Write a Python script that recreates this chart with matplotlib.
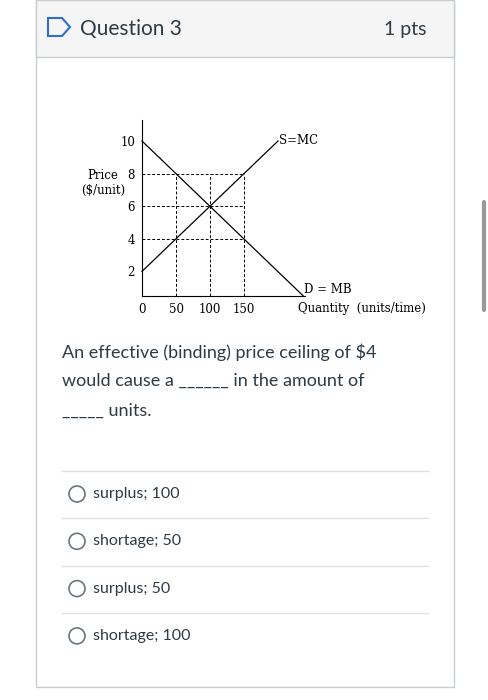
import matplotlib
matplotlib.use('Agg')
import matplotlib.pyplot as plt
from matplotlib.patches import Rectangle, Circle, Polygon

# chart data
qty_ticks = [0, 50, 100, 150]
price_ticks = [2, 4, 6, 8, 10]
supply_q = [0, 200]
supply_p = [2, 10]
demand_q = [0, 237]
demand_p = [10, 0.5]
guide_q = [50, 100, 150]
guide_p = [8, 6, 4]

options = ["surplus; 100", "shortage; 50", "surplus; 50", "shortage; 100"]

fig = plt.figure(figsize=(4.89, 7), dpi=100)
bg = fig.add_axes([0, 0, 1, 1])
bg.set_xlim(0, 489)
bg.set_ylim(700, 0)
bg.axis('off')

# card
bg.add_patch(Rectangle((36, 0), 418, 687, fill=False, ec='#c7cdd1', lw=1))
bg.add_patch(Rectangle((36, 0), 418, 57, fc='#f5f5f5', ec='#c7cdd1', lw=1))
bg.add_patch(Polygon([(48, 18), (62, 18), (70, 27), (62, 36), (48, 36)], closed=True,
                     fill=False, ec='#2d6fcf', lw=1.5))
bg.text(80, 29, "Question 3", fontsize=15, family='Lato', color='#2d3b45', va='center')
bg.text(426, 29, "1 pts", fontsize=14, family='Lato', color='#2d3b45', va='center', ha='right')

# question text
txt = dict(fontsize=13, family='Lato', color='#2d3b45', va='center')
bg.text(62, 352, "An effective (binding) price ceiling of $4", **txt)
bg.text(62, 381, "would cause a ______ in the amount of", **txt)
bg.text(62, 411, "_____ units.", **txt)

# answers
for i, opt in enumerate(options):
    y = 494 + i * 47.3
    bg.plot([62, 428], [y - 23, y - 23], color='#dde1e4', lw=1)
    bg.add_patch(Circle((77, y), 8, fill=False, ec='#6b7780', lw=1.2))
    bg.text(93, y, opt, fontsize=11.5, family='Lato', color='#2d3b45', va='center')

# scrollbar
bg.plot([484, 484], [202, 310], color='#999999', lw=3, solid_capstyle='round')

# chart axes: q 0 at px 142, 0.68 px/unit; p 10 at px 141, 16.3 px/unit
x0, px_q = 142, 0.68
y10, px_p = 141, 16.3
qmax, pmin, pmax = 240, 0.5, 11.3
left = x0
right = x0 + qmax * px_q
top = y10 - (pmax - 10) * px_p
bottom = y10 + (10 - pmin) * px_p
ax = fig.add_axes([left / 489, 1 - bottom / 700, (right - left) / 489, (bottom - top) / 700])
ax.set_xlim(0, qmax)
ax.set_ylim(pmin, pmax)
ax.patch.set_alpha(0)
for s in ['top', 'right']:
    ax.spines[s].set_visible(False)
ax.spines['left'].set_linewidth(0.8)
ax.spines['bottom'].set_linewidth(0.8)
ax.tick_params(length=0, labelsize=8.5, pad=5)
ax.set_xticks(qty_ticks)
ax.set_yticks(price_ticks)
ax.set_xticklabels([str(v) for v in qty_ticks], family='DejaVu Serif')
ax.set_yticklabels([str(v) for v in price_ticks], family='DejaVu Serif')

ax.plot(supply_q, supply_p, color='black', lw=0.9, clip_on=False)
ax.plot(demand_q, demand_p, color='black', lw=0.9, clip_on=False)
for q, p in zip(guide_q, guide_p):
    ax.plot([q, q], [pmin, 8], color='black', lw=0.7, ls=(0, (3, 2)))
for p in guide_p:
    ax.plot([0, 150], [p, p], color='black', lw=0.7, ls=(0, (3, 2)))

serif = dict(family='DejaVu Serif', fontsize=8.5, color='black')
ax.text(supply_q[1] + 1, 10, "S=MC", va='center', ha='left', **serif)
ax.text(238, 0.9, "D = MB", va='center', ha='left', **serif)
ax.text(230, pmin - 0.35, "Quantity  (units/time)", va='top', ha='left', **serif)
ax.text(-0.24, 0.64, "Price\n($/unit)", transform=ax.transAxes, va='center', ha='center', **serif)

fig.savefig('out.png', dpi=100)
